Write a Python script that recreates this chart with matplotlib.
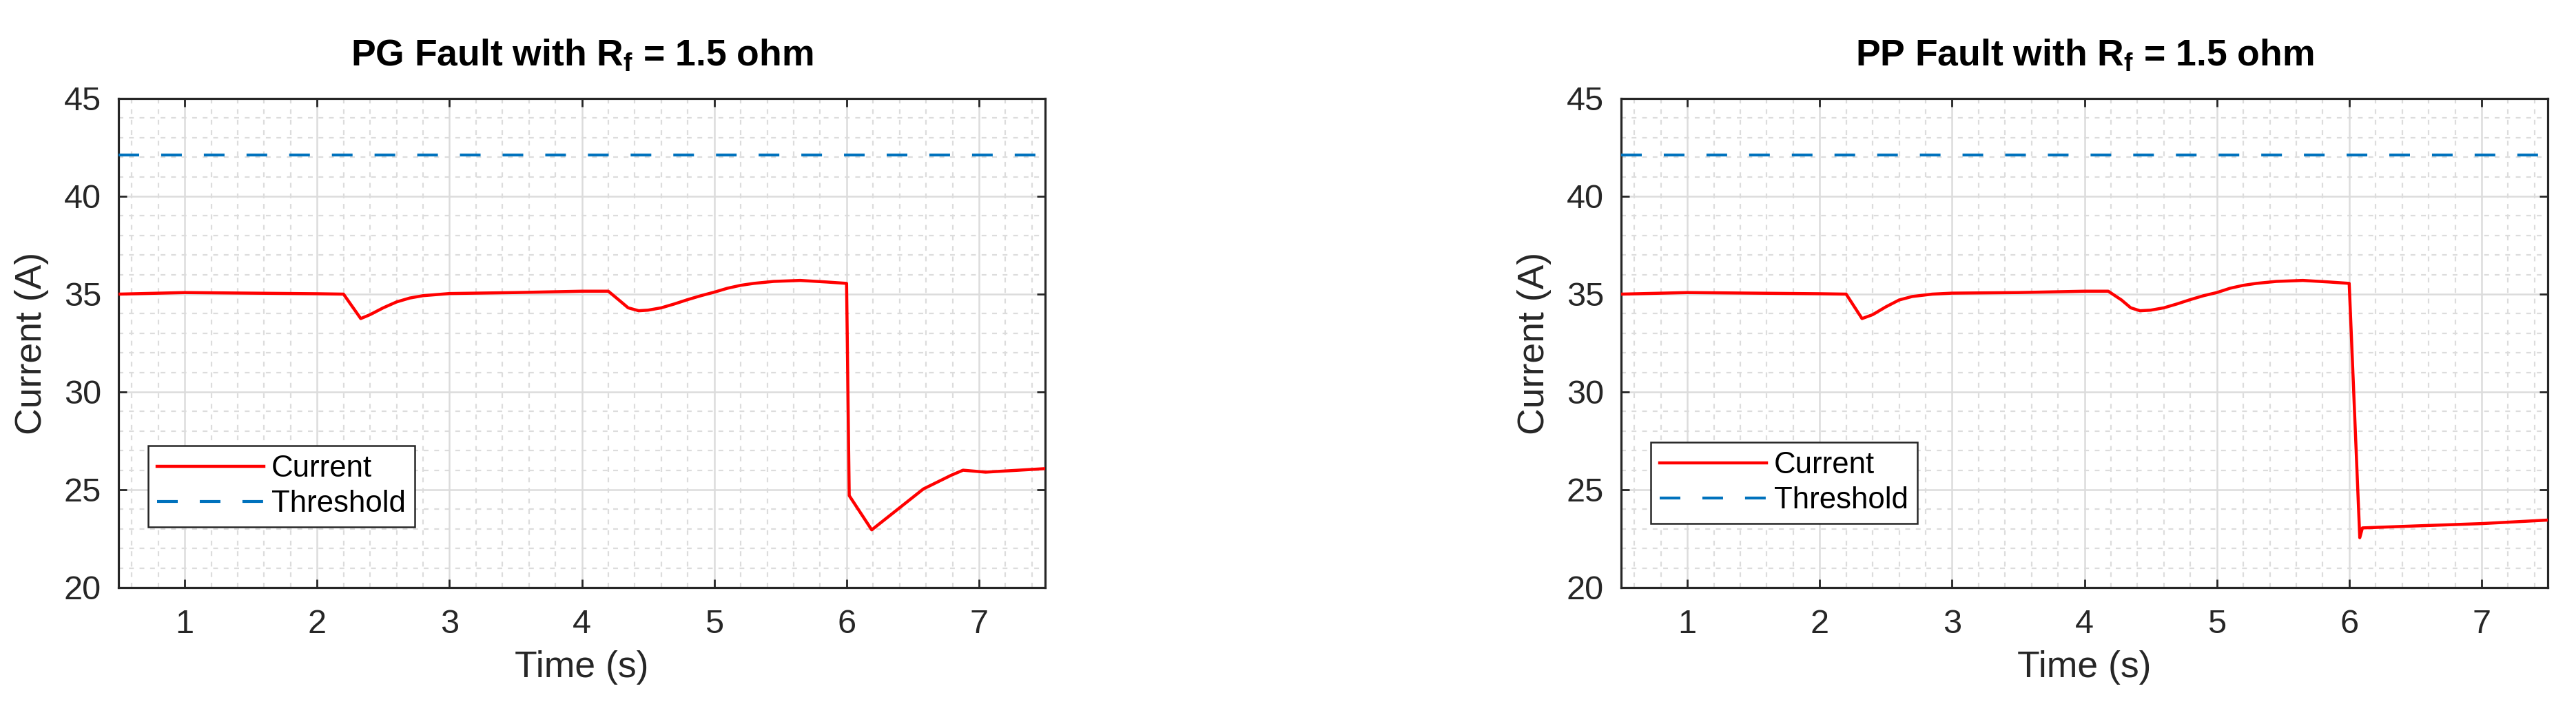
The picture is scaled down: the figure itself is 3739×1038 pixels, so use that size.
import matplotlib
matplotlib.use('Agg')
import matplotlib.pyplot as plt
from matplotlib.ticker import MultipleLocator, FixedLocator

plt.rcParams['font.family'] = ['Liberation Sans', 'DejaVu Sans']
plt.rcParams['mathtext.fontset'] = 'custom'
plt.rcParams['mathtext.rm'] = 'Liberation Sans'
plt.rcParams['mathtext.it'] = 'Liberation Sans:italic'
plt.rcParams['mathtext.bf'] = 'Liberation Sans:bold'
plt.rcParams['lines.scale_dashes'] = False

# ---------------- data ----------------
time_pg = [0.5, 1.0, 1.5, 2.0, 2.2, 2.33, 2.4, 2.5, 2.6, 2.7, 2.8, 3.0, 3.5,
           4.0, 4.2, 4.28, 4.35, 4.43, 4.5, 4.6, 4.7, 4.8, 4.9, 5.0, 5.1, 5.2,
           5.3, 5.45, 5.65, 5.85, 6.0, 6.02, 6.19, 6.36, 6.58, 6.79, 6.88,
           7.05, 7.5]
current_pg = [35.0, 35.08, 35.05, 35.02, 35.0, 33.75, 33.95, 34.3, 34.6, 34.8,
              34.92, 35.03, 35.08, 35.15, 35.15, 34.7, 34.3, 34.15, 34.18,
              34.3, 34.5, 34.72, 34.92, 35.1, 35.3, 35.45, 35.55, 35.65, 35.7,
              35.62, 35.55, 24.7, 22.95, 23.86, 25.04, 25.74, 26.0, 25.9,
              26.08]

time_pp = [0.5, 1.0, 1.5, 2.0, 2.2, 2.32, 2.4, 2.5, 2.6, 2.7, 2.85, 3.0, 3.5,
           4.0, 4.18, 4.28, 4.35, 4.42, 4.5, 4.6, 4.7, 4.8, 4.9, 5.0, 5.1, 5.2,
           5.3, 5.45, 5.65, 5.85, 6.0, 6.08, 6.1, 6.5, 7.0, 7.5]
current_pp = [35.0, 35.08, 35.05, 35.02, 35.0, 33.75, 33.95, 34.35, 34.7,
              34.88, 35.0, 35.05, 35.08, 35.15, 35.15, 34.7, 34.3, 34.15,
              34.18, 34.3, 34.5, 34.72, 34.92, 35.08, 35.3, 35.45, 35.55,
              35.65, 35.7, 35.62, 35.55, 22.55, 23.05, 23.15, 23.27, 23.45]

threshold_time = [0.5, 7.5]
threshold_value = [42.1, 42.1]

titles = [r'PG Fault with $\mathbf{R_f}$ = 1.5 ohm',
          r'PP Fault with $\mathbf{R_f}$ = 1.5 ohm']
x_ticks = [1, 2, 3, 4, 5, 6, 7]
y_ticks = [20, 25, 30, 35, 40, 45]
x_label = 'Time (s)'
y_label = 'Current (A)'
legend_labels = ['Current', 'Threshold']

# ---------------- figure ----------------
W, H = 3739, 1038
fig = plt.figure(figsize=(W / 100, H / 100), dpi=100)

ax_left_px = [172, 2353]
ax_w_px = 1345
ax_top_px, ax_bot_px = 143, 853
legend_anchor = [(0.032, 0.124), (0.032, 0.131)]

series = [(time_pg, current_pg), (time_pp, current_pp)]
tick_col = '#262626'

for i in range(2):
    ax = fig.add_axes([ax_left_px[i] / W, 1 - ax_bot_px / H,
                       ax_w_px / W, (ax_bot_px - ax_top_px) / H])
    t, c = series[i]
    l1, = ax.plot(t, c, color='#ff0000', lw=3.2, solid_joinstyle='round',
                  zorder=3)
    l2, = ax.plot(threshold_time, threshold_value, color='#0072bd', lw=3.0,
                  linestyle=(0, (21.6, 23.0)), zorder=3)
    ax.set_xlim(0.5, 7.5)
    ax.set_ylim(20, 45)
    ax.xaxis.set_major_locator(FixedLocator(x_ticks))
    ax.yaxis.set_major_locator(FixedLocator(y_ticks))
    ax.xaxis.set_minor_locator(MultipleLocator(0.2))
    ax.yaxis.set_minor_locator(MultipleLocator(1))
    ax.set_axisbelow(True)
    ax.grid(which='major', color='#dcdcdc', lw=1.8, ls='-')
    ax.grid(which='minor', color='#dcdcdc', lw=1.6, ls=(0, (5, 6)))
    ax.tick_params(which='major', direction='in', length=8.6, width=2.0,
                   top=True, right=True, labelsize=35, colors=tick_col,
                   labelcolor=tick_col)
    ax.tick_params(axis='x', which='major', pad=22)
    ax.tick_params(axis='y', which='major', pad=18)
    ax.tick_params(which='minor', length=0)
    for sp in ax.spines.values():
        sp.set_color(tick_col)
        sp.set_linewidth(2.3)
    ax.set_title(titles[i], fontsize=38.5, fontweight='bold', pad=34,
                 color='black')
    ax.set_xlabel(x_label, fontsize=38.5, color=tick_col)
    ax.set_ylabel(y_label, fontsize=38.5, color=tick_col)
    ax.xaxis.set_label_coords(0.5, -0.128)
    ax.yaxis.set_label_coords(-0.075, 0.5)
    leg = ax.legend([l1, l2], legend_labels, loc='lower left',
                    bbox_to_anchor=legend_anchor[i], borderaxespad=0,
                    fontsize=31.5, handlelength=3.54, handletextpad=0.25,
                    borderpad=0.3, labelspacing=0.22, fancybox=False,
                    framealpha=1, edgecolor=tick_col)
    leg.get_frame().set_linewidth(1.8)
    for txt in leg.get_texts():
        txt.set_color('black')

fig.savefig('out.png', dpi=100, facecolor='white')
